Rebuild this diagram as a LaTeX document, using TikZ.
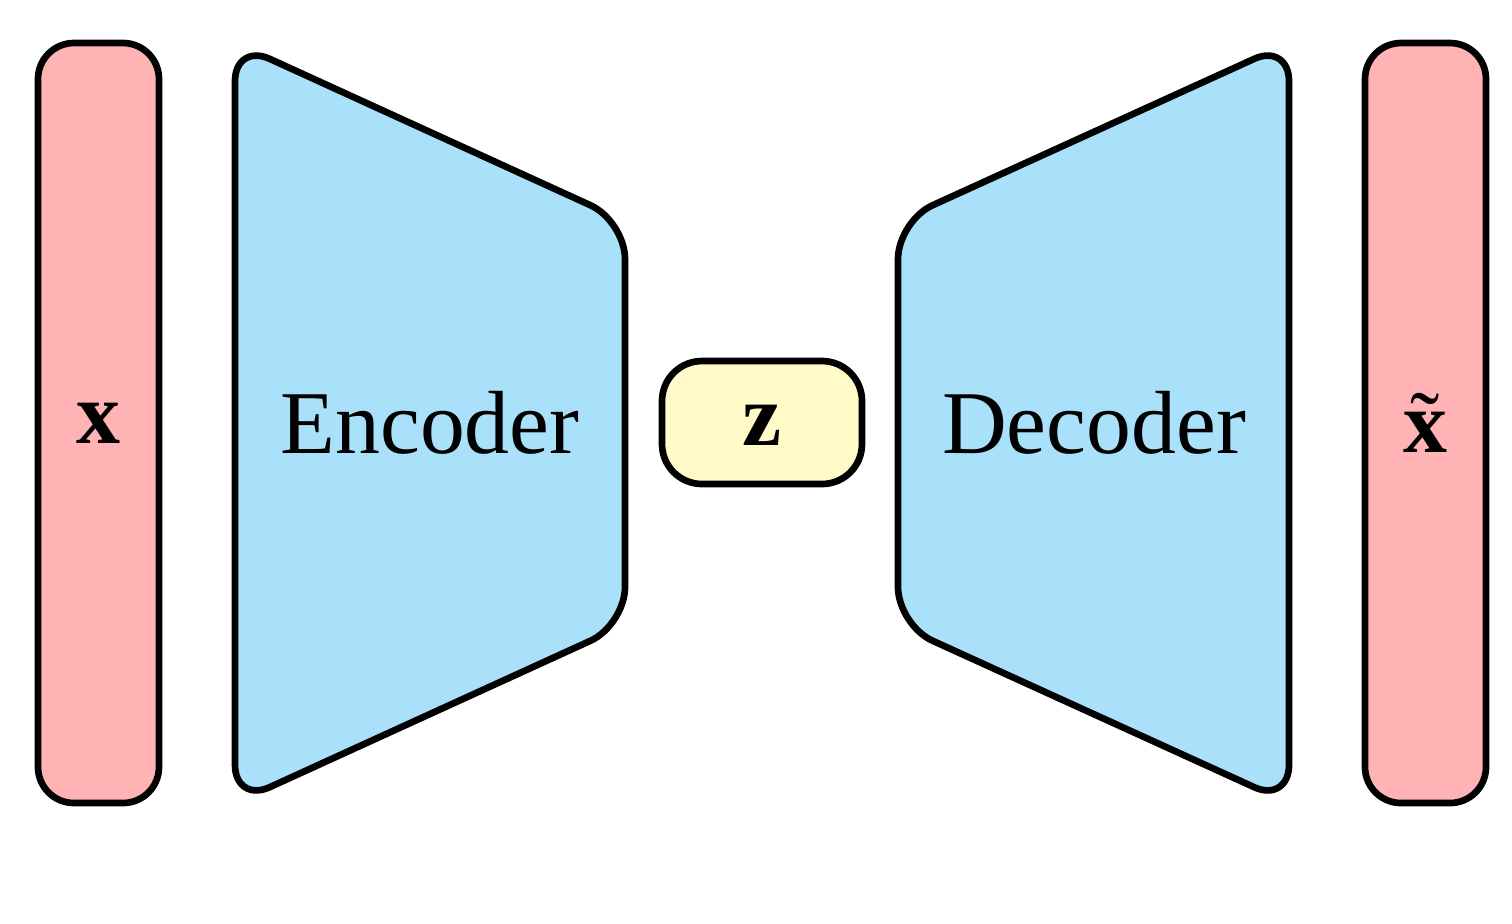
\documentclass[tikz,border=0pt]{standalone}
\usepackage{fontspec}
\setmainfont{Liberation Serif}
\definecolor{inpink}{HTML}{FFB3B5}
\definecolor{netblue}{HTML}{AAE1FA}
\definecolor{codeyellow}{HTML}{FFFAC8}

\begin{document}
\begin{tikzpicture}[x=0.01cm, y=-0.01cm, line width=1.9pt, line join=round]
	\useasboundingbox (0,0) rectangle (1512,923);
	\coordinate (enctl) at (235,43); \coordinate (enctr) at (625,221); \coordinate (encbr) at (625,625); \coordinate (encbl) at (235,803);
	\coordinate (dectl) at (898,221); \coordinate (dectr) at (1289,43); \coordinate (decbr) at (1289,803); \coordinate (decbl) at (898,625);
	\draw[fill=inpink, rounded corners=0.36cm] (38,43) rectangle (159,803);
	\draw[fill=inpink, rounded corners=0.36cm] (1365,43) rectangle (1486,803);
	\draw[fill=netblue, rounded corners=0.38cm] (enctl) -- (enctr) -- (encbr) -- (encbl) -- cycle;
	\draw[fill=netblue, rounded corners=0.38cm] (dectl) -- (dectr) -- (decbr) -- (decbl) -- cycle;
	\draw[fill=codeyellow, rounded corners=0.4cm] (662,361) rectangle (862,484);
	\node[anchor=base] (x) at (98,443) {\fontsize{25}{30}\selectfont\textbf{x}};
	\node[anchor=base] (enc) at (430,453) {\fontsize{25.5}{30}\selectfont Encoder};
	\node[anchor=base] (z) at (762,445) {\fontsize{25}{30}\selectfont\textbf{z}};
	\node[anchor=base] (dec) at (1094,453) {\fontsize{25.5}{30}\selectfont Decoder};
	\node[anchor=base] (xt) at (1425,452) {\fontsize{25}{30}\selectfont\ooalign{\textbf{x}\cr\hidewidth\char"02DC\hidewidth\cr}};
\end{tikzpicture}
\end{document}
